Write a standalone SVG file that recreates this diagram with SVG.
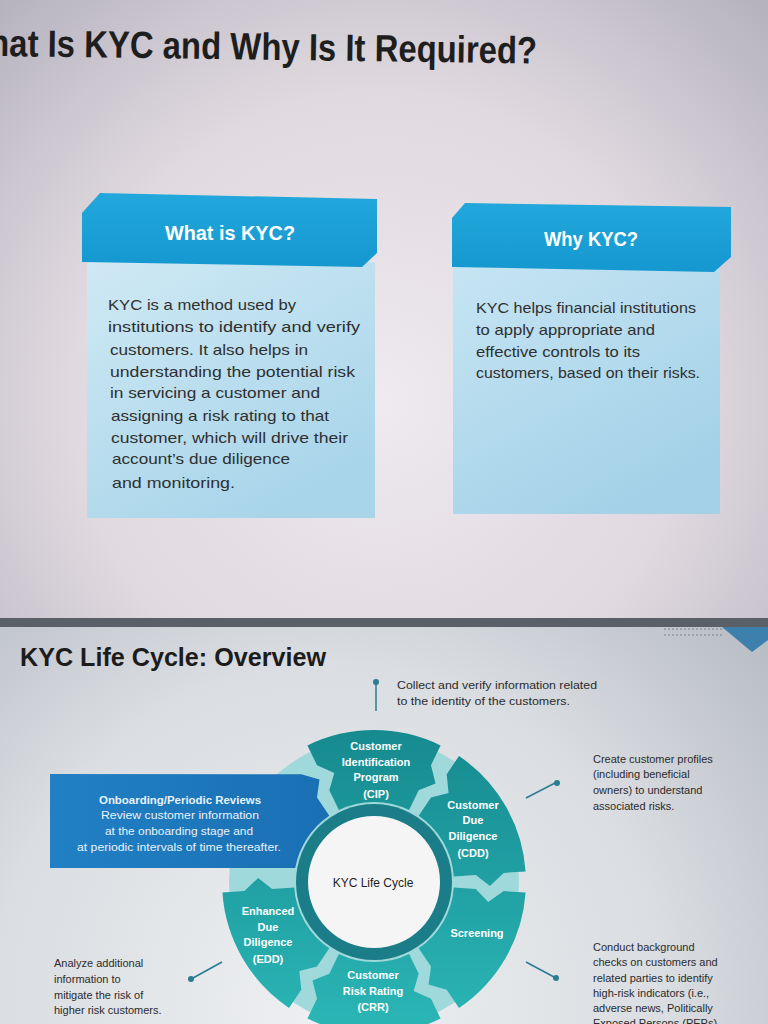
<svg xmlns="http://www.w3.org/2000/svg" width="768" height="1024" viewBox="0 0 768 1024">
<defs>
<radialGradient id="bg1" cx="380" cy="400" r="560" gradientUnits="userSpaceOnUse">
<stop offset="0" stop-color="#eeeaef"/>
<stop offset="0.55" stop-color="#e0d9df"/>
<stop offset="1" stop-color="#b4b1be"/>
</radialGradient>
<radialGradient id="bg2" cx="330" cy="1000" r="560" gradientUnits="userSpaceOnUse">
<stop offset="0" stop-color="#eef0f2"/>
<stop offset="0.6" stop-color="#dadde1"/>
<stop offset="1" stop-color="#b9bdc5"/>
</radialGradient>
<linearGradient id="hdr" x1="0" y1="0" x2="0" y2="1">
<stop offset="0" stop-color="#22a8dc"/>
<stop offset="1" stop-color="#1597cf"/>
</linearGradient>
<linearGradient id="bodyL" x1="0" y1="0" x2="0.6" y2="1">
<stop offset="0" stop-color="#cfe9f4"/>
<stop offset="1" stop-color="#a9d5ea"/>
</linearGradient>
<linearGradient id="bodyR" x1="0" y1="0" x2="0.6" y2="1">
<stop offset="0" stop-color="#c6e5f3"/>
<stop offset="1" stop-color="#a4d1e8"/>
</linearGradient>
<linearGradient id="seg" x1="374" y1="730" x2="374" y2="1030" gradientUnits="userSpaceOnUse">
<stop offset="0" stop-color="#168a8f"/>
<stop offset="1" stop-color="#2bb6b6"/>
</linearGradient>
<linearGradient id="blue" x1="50" y1="0" x2="330" y2="0" gradientUnits="userSpaceOnUse">
<stop offset="0" stop-color="#2180c4"/>
<stop offset="1" stop-color="#1a6fb3"/>
</linearGradient>
<style>
.f{font-family:"Liberation Sans",Arial,sans-serif}
.body{font-size:15px;fill:#2f2f2f}
.hd{font-size:20px;font-weight:bold;fill:#ffffff;text-anchor:middle}
.seg{font-size:11px;font-weight:bold;fill:#ffffff;text-anchor:middle}
.call{font-size:11px;fill:#2b2b2b}
.box{font-size:10.5px;fill:#e8f2fa;text-anchor:middle}
.lead{stroke:#2a7c92;stroke-width:1.5;fill:none}
.dot{fill:#2a7c92}
.sg{fill:url(#seg)}
</style>
</defs>

<!-- Slide 1 -->
<rect x="0" y="0" width="768" height="620" fill="url(#bg1)"/>
<text class="f" x="-42" y="56" font-size="38" font-weight="bold" fill="#1e1e1e" textLength="579" lengthAdjust="spacingAndGlyphs" transform="rotate(0.8 0 56)">What Is KYC and Why Is It Required?</text>

<g id="card-what">
<rect x="87" y="262" width="288" height="256" fill="url(#bodyL)"/>
<path d="M82,213 L100,193 L377,199 L377,253 L362,267 L82,262 Z" fill="url(#hdr)"/>
<text class="f hd" x="230" y="240" textLength="130" lengthAdjust="spacingAndGlyphs">What is KYC?</text>
<text class="f body" x="108" y="310" textLength="188" lengthAdjust="spacingAndGlyphs">KYC is a method used by</text>
<text class="f body" x="108" y="332" textLength="252" lengthAdjust="spacingAndGlyphs">institutions to identify and verify</text>
<text class="f body" x="110" y="355" textLength="198" lengthAdjust="spacingAndGlyphs">customers. It also helps in</text>
<text class="f body" x="110" y="377" textLength="245" lengthAdjust="spacingAndGlyphs">understanding the potential risk</text>
<text class="f body" x="110" y="398" textLength="210" lengthAdjust="spacingAndGlyphs">in servicing a customer and</text>
<text class="f body" x="111" y="421" textLength="218" lengthAdjust="spacingAndGlyphs">assigning a risk rating to that</text>
<text class="f body" x="111" y="443" textLength="237" lengthAdjust="spacingAndGlyphs">customer, which will drive their</text>
<text class="f body" x="112" y="464" textLength="178" lengthAdjust="spacingAndGlyphs">account’s due diligence</text>
<text class="f body" x="112" y="488" textLength="123" lengthAdjust="spacingAndGlyphs">and monitoring.</text>
</g>

<g id="card-why">
<rect x="453" y="266" width="267" height="248" fill="url(#bodyR)"/>
<path d="M452,218 L465,203 L731,207 L731,257 L714,272 L452,267 Z" fill="url(#hdr)"/>
<text class="f hd" x="591" y="246" textLength="94" lengthAdjust="spacingAndGlyphs">Why KYC?</text>
<text class="f body" x="476" y="313" textLength="220" lengthAdjust="spacingAndGlyphs">KYC helps financial institutions</text>
<text class="f body" x="476" y="335" textLength="179" lengthAdjust="spacingAndGlyphs">to apply appropriate and</text>
<text class="f body" x="476" y="357" textLength="164" lengthAdjust="spacingAndGlyphs">effective controls to its</text>
<text class="f body" x="476" y="378" textLength="224" lengthAdjust="spacingAndGlyphs">customers, based on their risks.</text>
</g>

<!-- divider -->
<rect x="0" y="618" width="768" height="9" fill="#5b5f67"/>

<!-- Slide 2 -->
<rect x="0" y="627" width="768" height="397" fill="url(#bg2)"/>
<g id="deco">
<line x1="664" y1="629" x2="724" y2="629" stroke="#8f9aa8" stroke-width="1.5" stroke-dasharray="2 2"/>
<line x1="664" y1="635" x2="724" y2="635" stroke="#8f9aa8" stroke-width="1.5" stroke-dasharray="2 2"/>
<polygon points="722,627 768,627 768,640 752,652" fill="#3d7fad"/>
</g>
<text class="f" x="20" y="666" font-size="26" font-weight="bold" fill="#1c1c1c" textLength="306" lengthAdjust="spacingAndGlyphs">KYC Life Cycle: Overview</text>

<!-- wheel base ring -->
<circle cx="374" cy="882" r="145" fill="#a0d9db"/>

<g id="node-cip">
<path class="sg" d="M307.4,745.4 A152,152 0 0 1 440.6,745.4 L431,765.2 L435.5,783.6 L418.7,790.3 L409.1,810.1 A80,80 0 0 0 338.9,810.1 L329.3,790.3 L334.3,773 L317,765.2 Z"/>
<text class="f seg" x="376" y="750">Customer</text>
<text class="f seg" x="376" y="766">Identification</text>
<text class="f seg" x="376" y="781">Program</text>
<text class="f seg" x="376" y="798">(CIP)</text>
</g>

<g id="node-cdd">
<path class="sg" d="M459,756 A152,152 0 0 1 525.6,871.4 L503.7,872.9 L489.9,886 L475.8,874.9 L453.8,876.4 A80,80 0 0 0 418.7,815.7 L431,797.4 L448.6,793.1 L446.7,774.2 Z"/>
<text class="f seg" x="473" y="809">Customer</text>
<text class="f seg" x="473" y="824">Due</text>
<text class="f seg" x="473" y="840">Diligence</text>
<text class="f seg" x="473" y="857">(CDD)</text>
</g>

<g id="node-screening">
<path class="sg" d="M525.6,892.6 A152,152 0 0 1 459,1008 L446.7,989.8 L428.5,984.4 L431,966.6 L418.7,948.3 A80,80 0 0 0 453.8,887.6 L475.8,889.1 L488.2,902.1 L503.7,891.1 Z"/>
<text class="f seg" x="477" y="937">Screening</text>
</g>

<g id="node-crr">
<path class="sg" d="M440.6,1018.6 A152,152 0 0 1 307.4,1018.6 L317,998.8 L312.5,980.4 L329.3,973.7 L338.9,953.9 A80,80 0 0 0 409.1,953.9 L418.7,973.7 L413.7,991 L431,998.8 Z"/>
<text class="f seg" x="373" y="979">Customer</text>
<text class="f seg" x="373" y="995">Risk Rating</text>
<text class="f seg" x="373" y="1011">(CRR)</text>
</g>

<g id="node-edd">
<path class="sg" d="M289,1008 A152,152 0 0 1 222.4,892.6 L244.3,891.1 L258.1,878 L272.2,889.1 L294.2,887.6 A80,80 0 0 0 329.3,948.3 L317,966.6 L299.4,970.9 L301.3,989.8 Z"/>
<text class="f seg" x="268" y="915">Enhanced</text>
<text class="f seg" x="268" y="931">Due</text>
<text class="f seg" x="268" y="946">Diligence</text>
<text class="f seg" x="268" y="963">(EDD)</text>
</g>

<g id="node-onboarding">
<path d="M50,774 L301.3,774.2 L319.5,779.6 L317,797.4 L329.3,815.7 A80,80 0 0 0 295.2,868.1 L50,868 Z" fill="url(#blue)"/>
<text class="f box" x="180" y="804" font-weight="bold" textLength="162" lengthAdjust="spacingAndGlyphs">Onboarding/Periodic Reviews</text>
<text class="f box" x="180" y="819" textLength="158" lengthAdjust="spacingAndGlyphs">Review customer information</text>
<text class="f box" x="179" y="835" textLength="148" lengthAdjust="spacingAndGlyphs">at the onboarding stage and</text>
<text class="f box" x="179" y="851" textLength="204" lengthAdjust="spacingAndGlyphs">at periodic intervals of time thereafter.</text>
</g>

<g id="node-center">
<circle cx="374" cy="882" r="78" fill="#1b7d87"/>
<circle cx="374" cy="882" r="66" fill="#f5f5f5"/>
<text class="f" x="373" y="887" font-size="12" fill="#1e1e1e" text-anchor="middle">KYC Life Cycle</text>
</g>

<g id="connectors">
<line class="lead" x1="376" y1="682" x2="376" y2="711"/>
<circle class="dot" cx="376" cy="682" r="3"/>
<line class="lead" x1="526" y1="798" x2="555" y2="783"/>
<circle class="dot" cx="557" cy="783" r="3"/>
<line class="lead" x1="526" y1="962" x2="554" y2="977"/>
<circle class="dot" cx="556" cy="978" r="3"/>
<line class="lead" x1="222" y1="962" x2="193" y2="978"/>
<circle class="dot" cx="191" cy="979" r="3"/>
</g>

<g id="callout-cip">
<text class="f call" x="397" y="689" textLength="200" lengthAdjust="spacingAndGlyphs">Collect and verify information related</text>
<text class="f call" x="397" y="705" textLength="173" lengthAdjust="spacingAndGlyphs">to the identity of the customers.</text>
</g>
<g id="callout-cdd">
<text class="f call" x="593" y="763">Create customer profiles</text>
<text class="f call" x="593" y="778">(including beneficial</text>
<text class="f call" x="593" y="794">owners) to understand</text>
<text class="f call" x="593" y="810">associated risks.</text>
</g>
<g id="callout-screening">
<text class="f call" x="593" y="951">Conduct background</text>
<text class="f call" x="593" y="966">checks on customers and</text>
<text class="f call" x="593" y="982">related parties to identify</text>
<text class="f call" x="593" y="997">high-risk indicators (i.e.,</text>
<text class="f call" x="593" y="1012">adverse news, Politically</text>
<text class="f call" x="593" y="1027">Exposed Persons (PEPs),</text>
</g>
<g id="callout-edd">
<text class="f call" x="54" y="967">Analyze additional</text>
<text class="f call" x="54" y="983">information to</text>
<text class="f call" x="54" y="999">mitigate the risk of</text>
<text class="f call" x="54" y="1014">higher risk customers.</text>
</g>
</svg>
